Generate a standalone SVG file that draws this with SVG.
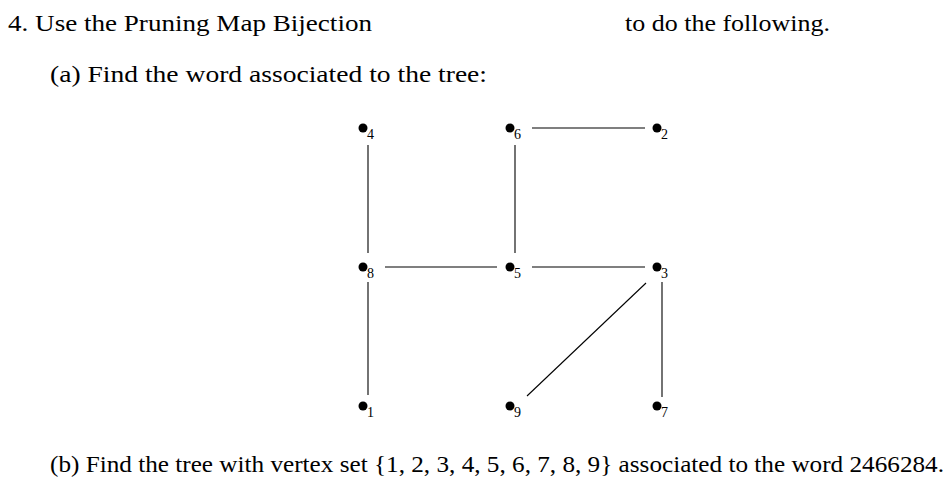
<svg xmlns="http://www.w3.org/2000/svg" width="951" height="502" viewBox="0 0 951 502">
<style>
.t{font-family:"Liberation Serif",serif;font-size:23px;fill:#000}
.l{font-family:"Liberation Serif",serif;font-size:14px;fill:#000}
.e{stroke:#000;stroke-width:1.1;fill:none}
</style>
<rect width="951" height="502" fill="#fff"/>
<text class="t" x="8" y="31" textLength="364" lengthAdjust="spacingAndGlyphs">4. Use the Pruning Map Bijection</text>
<text class="t" x="625" y="31" textLength="205" lengthAdjust="spacingAndGlyphs">to do the following.</text>
<text class="t" x="50" y="82" textLength="437" lengthAdjust="spacingAndGlyphs">(a) Find the word associated to the tree:</text>
<text class="t" x="50" y="472" textLength="894" lengthAdjust="spacingAndGlyphs">(b) Find the tree with vertex set {1, 2, 3, 4, 5, 6, 7, 8, 9} associated to the word 2466284.</text>
<g id="edges">
<line class="e" x1="368" y1="145" x2="368" y2="253"/>
<line class="e" x1="368" y1="282" x2="368" y2="395"/>
<line class="e" x1="385" y1="267" x2="497" y2="267"/>
<line class="e" x1="515" y1="145" x2="515" y2="253"/>
<line class="e" x1="532" y1="128" x2="645" y2="128"/>
<line class="e" x1="532" y1="267" x2="645" y2="267"/>
<line class="e" x1="662" y1="282" x2="662" y2="397"/>
<line class="e" x1="646" y1="283" x2="527" y2="396"/>
</g>
<g id="n4"><circle cx="363" cy="128" r="4.5"/><text class="l" x="367" y="139">4</text></g>
<g id="n6"><circle cx="510" cy="128" r="4.5"/><text class="l" x="514" y="139">6</text></g>
<g id="n2"><circle cx="657" cy="128" r="4.5"/><text class="l" x="661" y="139">2</text></g>
<g id="n8"><circle cx="363" cy="267" r="4.5"/><text class="l" x="367" y="278">8</text></g>
<g id="n5"><circle cx="510" cy="267" r="4.5"/><text class="l" x="514" y="278">5</text></g>
<g id="n3"><circle cx="657" cy="267" r="4.5"/><text class="l" x="661" y="278">3</text></g>
<g id="n1"><circle cx="363" cy="406" r="4.5"/><text class="l" x="367" y="417">1</text></g>
<g id="n9"><circle cx="510" cy="406" r="4.5"/><text class="l" x="514" y="417">9</text></g>
<g id="n7"><circle cx="657" cy="406" r="4.5"/><text class="l" x="661" y="417">7</text></g>
</svg>
